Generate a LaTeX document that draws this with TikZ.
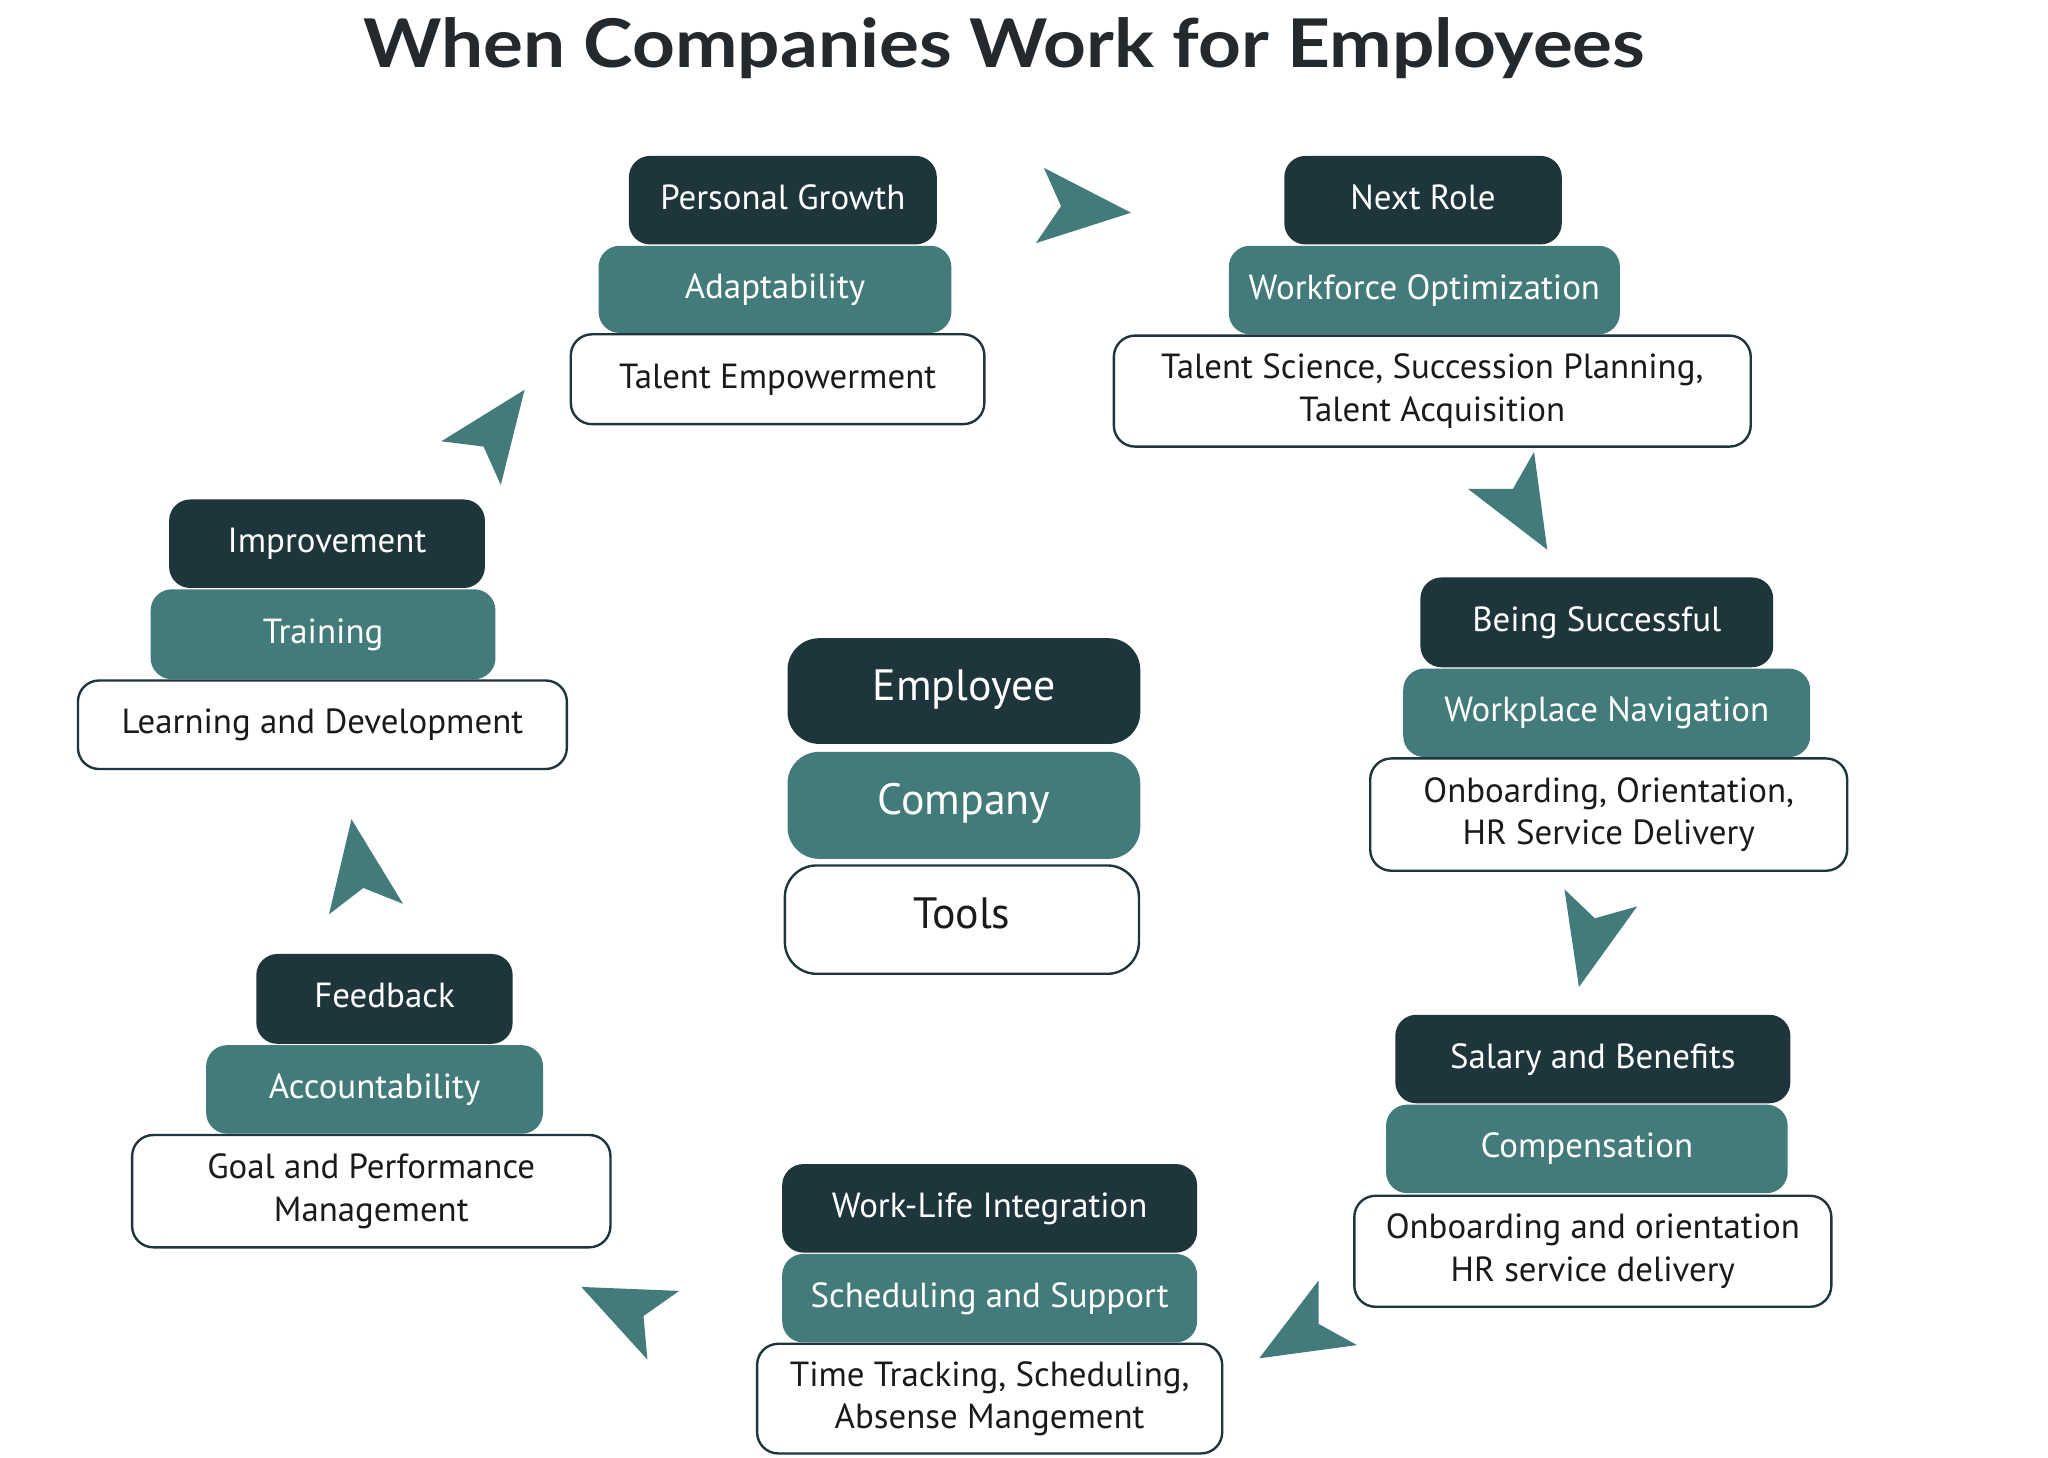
\documentclass[tikz,border=0pt]{standalone}
\usepackage{fontspec}
\setmainfont{PT Sans}
\newfontfamily\titlefont{Lato}
\definecolor{dk}{HTML}{1D353B}
\definecolor{tl}{HTML}{427B7A}
\definecolor{tx}{HTML}{1A1A1A}
\definecolor{ttl}{HTML}{24292E}
\tikzset{
  base/.style={rounded corners=8pt, inner sep=0pt, outer sep=0pt, align=center,
    font=\fontsize{13.2}{16}\selectfont},
  one/.style={text height=0.68em, text depth=0pt},
  dkbox/.style={base, fill=dk, text=white},
  tlbox/.style={base, fill=tl, text=white},
  whbox/.style={base, fill=white, draw=dk, line width=0.9pt, text=tx},
  big/.style={rounded corners=12pt, font=\fontsize{16.6}{20}\selectfont},
  arrowhead/.style={fill=tl, draw=none},
}
\newcommand\bx[7]{\node[#6, minimum width={(#4-#2)*0.5pt}, minimum height={(#5-#3)*0.5pt}] (#1) at ({(#2+#4)/2},{(#3+#5)/2}) {#7};}
\begin{document}
\begin{tikzpicture}[x=0.5pt, y=-0.5pt]
\fill[white] (0,0) rectangle (1550,1103);
\useasboundingbox (0,0) rectangle (1550,1103);
\node[anchor=base, text=ttl, inner sep=0pt] (title) at (760,51)
  {\scalebox{1}[0.9]{\resizebox{485pt}{!}{\titlefont\bfseries When Companies Work for Employees}}};
% stack 1
\bx{pg}{476}{118}{709}{185}{dkbox,one}{Personal Growth}
\bx{ad}{453}{186}{720}{252}{tlbox,one}{Adaptability}
\bx{te}{432}{253}{745}{321}{whbox,one}{Talent Empowerment}
% stack 2
\bx{nr}{972}{118}{1182}{185}{dkbox,one}{Next Role}
\bx{wo}{930}{186}{1226}{253}{tlbox,one}{Workforce Optimization}
\bx{ts}{843}{254}{1325}{338}{whbox}{Talent Science, Succession Planning,\\Talent Acquisition}
% stack 3
\bx{bs}{1075}{437}{1342}{505}{dkbox,one}{Being Successful}
\bx{wn}{1062}{506}{1370}{573}{tlbox,one}{Workplace Navigation}
\bx{oo}{1037}{574}{1398}{659}{whbox}{Onboarding, Orientation,\\HR Service Delivery}
% stack 4
\bx{sb}{1056}{768}{1355}{835}{dkbox,one}{Salary and Benefits}
\bx{co}{1049}{836}{1353}{903}{tlbox,one}{Compensation}
\bx{ob}{1025}{905}{1386}{989}{whbox}{Onboarding and orientation\\HR service delivery}
% stack 5
\bx{wl}{592}{881}{906}{948}{dkbox,one}{Work-Life Integration}
\bx{ss}{592}{949}{906}{1016}{tlbox,one}{Scheduling and Support}
\bx{tt}{573}{1017}{925}{1100}{whbox}{Time Tracking, Scheduling,\\Absense Mangement}
% stack 6
\bx{fb}{194}{722}{388}{790}{dkbox,one}{Feedback}
\bx{ac}{156}{791}{411}{858}{tlbox,one}{Accountability}
\bx{gp}{100}{859}{462}{944}{whbox}{Goal and Performance\\Management}
% stack 7
\bx{im}{128}{378}{367}{445}{dkbox,one}{Improvement}
\bx{tr}{114}{446}{375}{514}{tlbox,one}{Training}
\bx{ld}{59}{515}{429}{582}{whbox,one}{Learning and Development}
% centre
\bx{emp}{596}{483}{863}{563}{dkbox,one,big}{Employee}
\bx{com}{596}{569}{863}{650}{tlbox,one,big}{Company}
\bx{tools}{594}{655}{862}{737}{whbox,one,big}{Tools}
% arrowheads
\fill[arrowhead] (790,127) -- (856,161) -- (784,184) -- (803,156) -- cycle;
\fill[arrowhead] (1161,342) -- (1171,416) -- (1111,370) -- (1145,370) -- cycle;
\fill[arrowhead] (1184,673) -- (1207,695) -- (1239,686) -- (1195,747) -- cycle;
\fill[arrowhead] (998,969) -- (998,1002) -- (1027,1018) -- (953,1028) -- cycle;
\fill[arrowhead] (440,974) -- (514,977) -- (487,996) -- (490,1029) -- cycle;
\fill[arrowhead] (266,620) -- (305,684) -- (275,672) -- (249,692) -- cycle;
\fill[arrowhead] (397,295) -- (379,367) -- (366,338) -- (334,334) -- cycle;
\end{tikzpicture}
\end{document}
